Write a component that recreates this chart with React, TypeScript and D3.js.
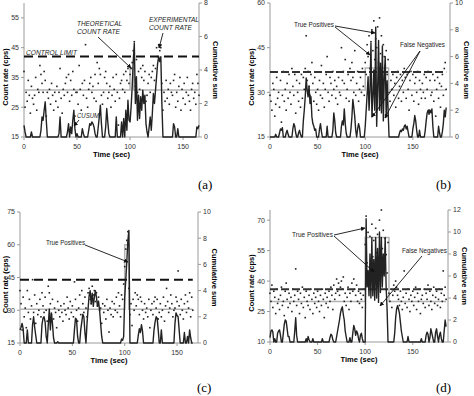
import React from "react";
import * as d3 from "d3";

// tick labels
const timeTicks = [0, 50, 100, 150];
const rateTicksA = [15, 25, 35, 45, 55];
const sumTicksA = [0, 2, 4, 6, 8];
const rateTicksB = [15, 30, 45, 60];
const sumTicksB = [0, 2, 4, 6, 8, 10];
const rateTicksC = [15, 30, 45, 60, 75];
const sumTicksC = [0, 2, 4, 6, 8, 10];
const rateTicksD = [10, 25, 40, 55, 70];
const sumTicksD = [0, 2, 4, 6, 8, 10, 12];

// panel (a): count rate per second, cusum per second
const rateA = [
  37, 25, 30, 27, 34, 29, 23, 32, 28, 26,
  29, 35, 24, 31, 30, 39, 36, 33, 30, 37,
  34, 22, 30, 28, 31, 26, 33, 29, 24, 30,
  27, 32, 25, 30, 38, 28, 23, 31, 29, 33,
  35, 30, 36, 27, 34, 29, 37, 31, 22, 30,
  30, 26, 39, 31, 24, 33, 29, 34, 46, 28,
  25, 31, 33, 35, 30, 32, 28, 36, 27, 40,
  33, 38, 36, 29, 26, 30, 35, 37, 33, 28,
  30, 32, 25, 29, 35, 31, 27, 36, 30, 19,
  28, 33, 34, 31, 36, 30, 37, 34, 38, 33,
  36, 38, 40, 44, 47, 32, 41, 30, 37, 31,
  38, 35, 39, 34, 37, 27, 29, 33, 36, 30,
  35, 37, 39, 34, 38, 45, 42, 46, 44, 45,
  33, 24, 30, 27, 34, 28, 31, 26, 33, 30,
  29, 34, 36, 25, 30, 27, 32, 35, 24, 31,
  28, 33, 26, 30, 35, 29, 27, 24, 31, 33,
  28, 30, 26, 36, 33, 29,
];
const cusumA = [
  0.7, 0.3, 0, 0, 0, 0, 0, 0.3, 0, 0,
  0, 0, 0, 0, 0, 0, 0.4, 1.2, 1.0, 1.6,
  2.1, 1.0, 0, 0, 0, 0, 0, 0, 0, 0,
  0, 0, 0, 0.2, 1.2, 0, 0, 0, 0, 0,
  0, 0.3, 0.8, 0, 0.6, 0.2, 1.0, 1.6, 0.5, 0,
  0.2, 0, 0, 0, 0, 0.5, 0.2, 0, 0, 0,
  0, 0.4, 0.8, 0.7, 0.9, 0.8, 0.6, 0.2, 0, 0,
  0.6, 1.2, 1.9, 0.8, 0, 0, 0, 0.6, 1.7, 0.9,
  0.2, 0, 0, 0, 0, 0, 0, 1.2, 0, 0,
  0, 0, 0.9, 0, 1.1, 0, 1.6, 0.4, 2.2, 1.0,
  0.9, 1.8, 3.0, 4.5, 5.6, 2.0, 3.6, 1.0, 2.5, 1.1,
  2.4, 1.6, 2.8, 2.0, 2.5, 0.8, 0.3, 0, 0.6, 1.2,
  0.4, 1.4, 2.6, 2.0, 2.8, 3.6, 4.4, 4.8, 4.5, 4.8,
  2.0, 0, 0, 0, 0, 0, 0, 0, 0, 0,
  0, 0.8, 0.6, 0, 0, 0.5, 0, 0, 0, 0,
  0, 0, 0, 0, 0, 0, 0, 0, 0, 0,
  0, 0, 0, 0.6, 0.5, 0.7,
];
const theoA: [number, number][] = [[0, 30.8], [100, 30.8], [100, 38.2], [103, 38.2], [103, 30.8], [165, 30.8]];
const limitA = 42;

// panel (b)
const rateB = [
  29, 27, 24, 33, 31, 22, 26, 35, 28, 30,
  25, 34, 20, 29, 37, 27, 31, 24, 33, 28,
  36, 30, 26, 38, 32, 29, 36, 23, 34, 30,
  27, 33, 25, 36, 28, 35, 31, 38, 49, 34,
  37, 32, 29, 36, 40, 33, 27, 35, 30, 26,
  31, 24, 34, 29, 39, 28, 33, 25, 31, 36,
  42, 30, 27, 35, 33, 29, 37, 31, 34, 28,
  32, 26, 35, 30, 29, 45, 34, 37, 33, 41,
  28, 31, 36, 27, 38, 34, 40, 35, 30, 44,
  29, 33, 37, 27, 31, 35, 30, 38, 32, 29,
  40, 36, 46, 42, 49, 38, 47, 51, 44, 54,
  41, 48, 45, 52, 40, 55, 43, 49, 37, 46,
  42, 39, 44, 36, 41, 30, 27, 34, 31, 36,
  29, 33, 25, 35, 37, 28, 32, 36, 27, 34,
  30, 38, 35, 28, 36, 31, 24, 34, 37, 29,
  36, 27, 33, 35, 30, 37, 26, 34, 31, 28,
  33, 30, 36, 28, 35, 31, 37, 24, 34, 29,
  30, 36, 27, 34, 22, 31, 35, 28, 33, 25,
  32, 36, 29, 38, 40, 31,
];
const cusumB = [
  0, 0, 0, 0, 0, 0, 0.2, 0, 0, 0,
  0.3, 0.6, 0.5, 0.7, 0, 0, 0, 0.3, 0.5, 0.2,
  0, 0, 0, 0, 0.6, 1.0, 0.8, 0.3, 0, 0,
  0.3, 0.5, 0.2, 0, 0, 1.2, 2.0, 3.0, 4.4, 3.5,
  3.0, 3.8, 2.5, 3.0, 1.5, 1.0, 0.8, 0.5, 0.6, 0,
  0, 0, 0.6, 1.0, 0.4, 0, 0, 0, 0, 0,
  0.8, 0, 0, 0, 0, 0, 0.5, 1.8, 1.2, 0.3,
  0, 0, 0, 0, 0, 0.8, 1.2, 0.9, 2.1, 1.0,
  0.3, 0, 0, 0, 0, 0.6, 1.5, 2.8, 2.2, 1.5,
  0.5, 0, 0.6, 1.0, 0.7, 0, 0, 0, 0, 0,
  0.8, 2.0, 3.2, 4.5, 2.0, 3.5, 7.0, 1.5, 3.0, 5.0,
  2.0, 8.2, 0.8, 3.5, 7.2, 2.0, 5.5, 1.8, 6.8, 1.2,
  4.5, 6.0, 1.5, 4.2, 2.0, 0, 0, 0, 0, 0,
  0, 0, 0, 0, 0, 0, 0.3, 0.5, 0.4, 0.6,
  0.5, 0.8, 0.9, 0.6, 0.8, 0.4, 0, 0, 0, 0,
  0.6, 1.0, 1.6, 1.2, 0.5, 0, 0, 0.5, 0, 0,
  0, 0, 0, 0.5, 1.2, 1.8, 2.0, 1.7, 2.0, 1.8,
  2.1, 0.8, 0, 0, 0, 0, 0, 0.8, 0.3, 0,
  0, 0.4, 1.0, 2.0, 1.5, 2.2,
];
const theoB: [number, number][] = [[0, 30.8], [100, 30.8], [100, 38.2], [124.5, 38.2], [124.5, 30.8], [185, 30.8]];
const limitB = 36.8;

// panel (c)
const rateC = [
  39, 33, 21, 36, 27, 31, 22, 39, 29, 35,
  26, 32, 44, 29, 37, 24, 33, 28, 30, 35,
  27, 38, 32, 29, 36, 30, 25, 41, 38, 33,
  28, 35, 26, 31, 29, 22, 34, 30, 27, 32,
  29, 25, 33, 30, 28, 36, 31, 26, 34, 29,
  32, 27, 43, 35, 30, 25, 31, 37, 28, 39,
  33, 29, 36, 31, 27, 38, 40, 35, 33, 41,
  37, 39, 34, 38, 32, 36, 30, 31, 24, 33,
  29, 32, 26, 35, 30, 20, 31, 28, 34, 27,
  33, 30, 36, 29, 38, 32, 27, 37, 35, 42,
  50, 58, 62, 66, 40, 28, 33, 23, 35, 30,
  38, 32, 37, 35, 28, 36, 34, 30, 26, 33,
  29, 31, 27, 35, 22, 30, 33, 28, 34, 36,
  31, 35, 26, 29, 33, 27, 30, 36, 25, 32,
  40, 34, 29, 31, 37, 33, 27, 30, 31, 36,
  34, 48, 32, 28, 35, 30, 26, 33, 37, 29,
  34, 31, 38, 27, 36, 30,
];
const cusumC = [
  1.0, 1.2, 1.5, 1.1, 0, 0, 0, 1.0, 0, 0,
  0, 0, 1.4, 2.0, 1.2, 0.6, 0, 0, 0, 0,
  0, 1.4, 1.9, 2.0, 1.6, 0.5, 0, 1.4, 2.6, 1.0,
  2.3, 1.5, 0.4, 0, 0, 0, 0.1, 0, 0, 0,
  0, 0, 0, 0, 0, 0, 0, 0, 0, 0,
  0, 0, 1.0, 1.9, 1.8, 0.5, 0, 0, 1.0, 1.6,
  2.2, 2.0, 0.8, 0, 1.5, 2.6, 3.6, 4.0, 3.0, 3.8,
  2.8, 3.5, 4.0, 3.5, 2.8, 3.2, 2.5, 1.5, 0.5, 0,
  0, 0, 0, 0, 0, 0, 0, 0, 0, 0,
  0, 0, 0, 0, 0, 0, 0, 0.3, 0.2, 0.5,
  3.5, 4.8, 6.2, 7.8, 8.6, 0, 0, 0, 0, 0,
  0, 0, 0, 0.6, 1.1, 0.8, 1.4, 0.9, 0, 0,
  0, 0, 0, 0, 0, 0, 0, 0, 1.0, 1.6,
  2.0, 1.9, 1.0, 0, 0, 1.0, 0, 0, 0, 0,
  0, 0, 0, 0, 0, 0, 0, 0, 1.5, 2.3,
  2.1, 2.0, 1.0, 0, 0, 0, 0, 0.8, 0, 0,
  0.5, 0, 1.0, 0.4, 0, 0,
];
const theoC: [number, number][] = [[0, 30.5], [100, 30.5], [100, 60], [104, 60], [104, 30.5], [165, 30.5]];
const limitC = 44;

// panel (d)
const rateD = [
  34, 30, 38, 27, 35, 32, 24, 36, 29, 31,
  26, 33, 37, 28, 30, 23, 35, 39, 31, 27,
  34, 29, 32, 25, 36, 30, 33, 46, 28, 35,
  31, 24, 34, 29, 37, 27, 32, 22, 35, 30,
  28, 33, 26, 36, 31, 24, 34, 29, 32, 27,
  35, 30, 25, 33, 28, 36, 31, 22, 34, 29,
  32, 27, 35, 30, 37, 33, 26, 38, 31, 34,
  41, 35, 39, 33, 37, 40, 36, 42, 30, 34,
  28, 32, 37, 26, 34, 30, 39, 35, 41, 36,
  33, 38, 30, 35, 29, 34, 31, 27, 33, 36,
  58, 72, 49, 64, 44, 62, 47, 68, 52, 60,
  41, 66, 54, 63, 45, 70, 50, 75, 56, 65,
  48, 61, 53, 44, 59, 34, 30, 36, 27, 33,
  38, 35, 40, 37, 33, 31, 28, 35, 30, 26,
  32, 45, 29, 34, 27, 36, 31, 25, 33, 30,
  35, 28, 32, 37, 26, 34, 30, 36, 24, 31,
  33, 29, 36, 27, 34, 31, 38, 28, 35, 30,
  26, 33, 37, 29, 32, 35, 28, 31, 36, 27,
  34, 30, 45, 33, 37, 31,
];
const cusumD = [
  0.4, 1.0, 1.1, 0.9, 0, 0.3, 0, 0, 0.8, 1.0,
  1.1, 0.6, 0, 0, 0.8, 1.6, 2.0, 1.9, 1.2, 0.5,
  0.5, 0, 0, 0, 0, 0, 1.0, 2.2, 0.6, 0,
  0, 0, 0, 0, 0, 0, 0, 0, 0.3, 0,
  0.5, 0.2, 0, 0, 0, 0.3, 0, 0, 0, 0,
  0, 0, 0, 0, 0, 0.3, 0, 0, 0, 0,
  0, 0, 0, 0.4, 0.7, 0.6, 0.2, 0, 0, 0,
  0.5, 1.0, 1.5, 2.0, 2.6, 3.0, 3.2, 2.5, 2.0, 1.0,
  0.5, 0, 0, 0, 0.4, 0, 0, 0.8, 1.5, 1.2,
  0.6, 1.0, 0.8, 0.3, 0, 0.6, 0.8, 0.3, 0, 0,
  0, 11.2, 5.0, 6.5, 4.2, 8.0, 4.0, 9.5, 4.2, 7.5,
  3.8, 9.5, 4.0, 8.5, 3.6, 10.0, 4.5, 9.5, 5.0, 8.0,
  6.0, 9.5, 5.0, 3.0, 0, 0, 0, 0, 0, 0,
  0, 0.8, 2.2, 3.0, 3.3, 3.0, 2.6, 1.8, 1.0, 0.5,
  0, 0, 0, 0, 0, 0.5, 0, 0, 0, 0,
  0, 0, 0, 0, 0, 0, 0, 0, 0, 0.3,
  0, 0, 0, 0, 0.6, 0.9, 0.7, 0, 0.4, 1.2,
  0.8, 0.4, 0, 0, 0.9, 1.2, 0.5, 0, 0.6, 0.9,
  0.3, 0, 0, 1.0, 2.0, 1.4,
];
const theoD: [number, number][] = [[0, 30], [100, 30], [100, 61.5], [125, 61.5], [125, 30], [185, 30]];
const limitD = 36;

type Note = { lines: string[]; x: number; y: number; italic?: boolean; widths?: number[]; arrows: number[][] };

type PanelProps = {
  box: { left: number; right: number; top: number; bottom: number };
  xMax: number;
  rateDomain: [number, number];
  sumDomain: [number, number];
  rateTicks: number[];
  sumTicks: number[];
  rate: number[];
  cusum: number[];
  theo: [number, number][];
  limit: number;
  limitColor: string;
  limitDash: string;
  tag: string;
  tagPos: [number, number];
  notes: Note[];
};

const sans = "Arial, 'Liberation Sans', sans-serif";

function Panel(p: PanelProps) {
  const { left, right, top, bottom } = p.box;
  const x = d3.scaleLinear().domain([0, p.xMax]).range([left, right]);
  const yL = d3.scaleLinear().domain(p.rateDomain).range([bottom, top]);
  const yR = d3.scaleLinear().domain(p.sumDomain).range([bottom, top]);

  const cusumLine = d3
    .line<number>()
    .x((d, i) => x(i))
    .y((d) => yR(d));
  const theoLine = d3
    .line<[number, number]>()
    .x((d) => x(d[0]))
    .y((d) => yL(d[1]));

  const axisColor = "#9a9a9a";
  const midY = (top + bottom) / 2;
  const midX = (left + right) / 2;
  const titleX = Math.max(left - 19, 5);

  return (
    <g>
      {/* axes */}
      <line x1={left} x2={left} y1={top} y2={bottom} stroke={axisColor} />
      <line x1={right} x2={right} y1={top} y2={bottom} stroke={axisColor} />
      <line x1={left} x2={right} y1={bottom} y2={bottom} stroke={axisColor} />
      {p.rateTicks.map((t) => (
        <g key={"l" + t}>
          <line x1={left - 3} x2={left} y1={yL(t)} y2={yL(t)} stroke={axisColor} />
          <text x={left - 5} y={yL(t)} dy="0.35em" textAnchor="end" fontSize={7} fill="#333" fontFamily={sans}>
            {t}
          </text>
        </g>
      ))}
      {p.sumTicks.map((t) => (
        <g key={"r" + t}>
          <line x1={right} x2={right + 3} y1={yR(t)} y2={yR(t)} stroke={axisColor} />
          <text x={right + 5} y={yR(t)} dy="0.35em" textAnchor="start" fontSize={7} fill="#333" fontFamily={sans}>
            {t}
          </text>
        </g>
      ))}
      {timeTicks.map((t) => (
        <g key={"x" + t}>
          <line x1={x(t)} x2={x(t)} y1={bottom} y2={bottom + 3} stroke={axisColor} />
          <text x={x(t)} y={bottom + 12} textAnchor="middle" fontSize={7} fill="#333" fontFamily={sans}>
            {t}
          </text>
        </g>
      ))}
      <text x={midX} y={bottom + 20} textAnchor="middle" fontSize={7.5} fontWeight="bold" fontFamily={sans}>
        Time (sec)
      </text>
      <text
        transform={`translate(${titleX},${midY + 7}) rotate(-90)`}
        textAnchor="middle"
        dy="0.35em"
        fontSize={7.5}
        fontWeight="bold"
        fontFamily={sans}
      >
        Count rate (cps)
      </text>
      <text
        transform={`translate(${right + 17},${midY}) rotate(90)`}
        textAnchor="middle"
        dy="0.35em"
        fontSize={7.5}
        fontWeight="bold"
        fontFamily={sans}
      >
        Cumulative sum
      </text>

      {/* theoretical count rate */}
      <path d={theoLine(p.theo) || ""} fill="none" stroke="#b4b4b4" strokeWidth={1.5} />
      {/* experimental count rate */}
      {p.rate.map((v, i) => (
        <rect key={i} x={x(i) - 0.8} y={yL(v) - 0.8} width={1.6} height={1.6} fill="#222" />
      ))}
      {/* control limit */}
      <line
        x1={x(0)}
        x2={x(p.rate.length - 1)}
        y1={yL(p.limit)}
        y2={yL(p.limit)}
        stroke={p.limitColor}
        strokeWidth={2}
        strokeDasharray={p.limitDash}
      />
      {/* cusum */}
      <path d={cusumLine(p.cusum) || ""} fill="none" stroke="#222" strokeWidth={1.4} strokeLinejoin="round" />

      {/* annotations */}
      {p.notes.map((n, k) => (
        <g key={"n" + k}>
          {n.lines.map((s, j) => (
            <text
              key={j}
              x={n.x}
              y={n.y + j * 8}
              fontSize={7}
              fontStyle={n.italic ? "italic" : "normal"}
              fill="#222"
              fontFamily={sans}
              textLength={n.widths ? n.widths[j] : undefined}
              lengthAdjust="spacingAndGlyphs"
            >
              {s}
            </text>
          ))}
          {n.arrows.map((a, j) => (
            <line key={"a" + j} x1={a[0]} y1={a[1]} x2={a[2]} y2={a[3]} stroke="#111" strokeWidth={0.9} markerEnd="url(#head)" />
          ))}
        </g>
      ))}

      <text x={p.tagPos[0]} y={p.tagPos[1]} fontSize={13} fontFamily="'Liberation Serif', 'Times New Roman', serif">
        {p.tag}
      </text>
    </g>
  );
}

export default function App() {
  return (
    <svg width={474} height={396} style={{ position: "absolute", left: 0, top: 0, background: "#fff" }}>
      <defs>
        <marker id="head" viewBox="0 0 10 10" refX="9" refY="5" markerWidth="5" markerHeight="5" orient="auto">
          <path d="M0,0 L10,5 L0,10 z" fill="#111" />
        </marker>
      </defs>
      <rect width={474} height={396} fill="#fff" />
      <Panel
        box={{ left: 24, right: 199, top: 3, bottom: 137 }}
        xMax={165}
        rateDomain={[15, 60]}
        sumDomain={[0, 8]}
        rateTicks={rateTicksA}
        sumTicks={sumTicksA}
        rate={rateA}
        cusum={cusumA}
        theo={theoA}
        limit={limitA}
        limitColor="#111"
        limitDash="9,5"
        tag="(a)"
        tagPos={[198, 189]}
        notes={[
          { lines: ["CONTROL LIMIT"], x: 26, y: 55, italic: true, widths: [51], arrows: [] },
          { lines: ["THEORETICAL", "COUNT RATE"], x: 77, y: 26, italic: true, widths: [45, 43], arrows: [[98, 37, 131, 68]] },
          { lines: ["EXPERIMENTAL", "COUNT RATE"], x: 149, y: 22, italic: true, widths: [50, 43], arrows: [[163, 33, 159, 48]] },
          { lines: ["CUSUM"], x: 77, y: 118, italic: true, widths: [22], arrows: [[79, 120, 74, 126]] },
        ]}
      />
      <Panel
        box={{ left: 270, right: 450, top: 3, bottom: 137 }}
        xMax={189}
        rateDomain={[15, 60]}
        sumDomain={[0, 10]}
        rateTicks={rateTicksB}
        sumTicks={sumTicksB}
        rate={rateB}
        cusum={cusumB}
        theo={theoB}
        limit={limitB}
        limitColor="#333"
        limitDash="8,3"
        tag="(b)"
        tagPos={[436, 189]}
        notes={[
          { lines: ["True Positives"], x: 294, y: 27, widths: [40], arrows: [[335, 26, 375, 33], [335, 27, 370, 55]] },
          { lines: ["False Negatives"], x: 400, y: 47, widths: [45], arrows: [[420, 51, 372, 117], [420, 51, 385, 118]] },
        ]}
      />
      <Panel
        box={{ left: 20, right: 198, top: 212, bottom: 343 }}
        xMax={170}
        rateDomain={[15, 75]}
        sumDomain={[0, 10]}
        rateTicks={rateTicksC}
        sumTicks={sumTicksC}
        rate={rateC}
        cusum={cusumC}
        theo={theoC}
        limit={limitC}
        limitColor="#111"
        limitDash="9,5"
        tag="(c)"
        tagPos={[197, 392]}
        notes={[{ lines: ["True Positives"], x: 46, y: 245, widths: [39], arrows: [[85, 245, 128, 262]] }]}
      />
      <Panel
        box={{ left: 270, right: 448, top: 210, bottom: 342 }}
        xMax={187}
        rateDomain={[10, 75]}
        sumDomain={[0, 12]}
        rateTicks={rateTicksD}
        sumTicks={sumTicksD}
        rate={rateD}
        cusum={cusumD}
        theo={theoD}
        limit={limitD}
        limitColor="#333"
        limitDash="8,3"
        tag="(d)"
        tagPos={[436, 392]}
        notes={[
          { lines: ["True Positives"], x: 292, y: 237, widths: [41], arrows: [[334, 235, 365, 228], [334, 236, 374, 272]] },
          { lines: ["False Negatives"], x: 402, y: 253, widths: [45], arrows: [[422, 256, 380, 306]] },
        ]}
      />
    </svg>
  );
}
